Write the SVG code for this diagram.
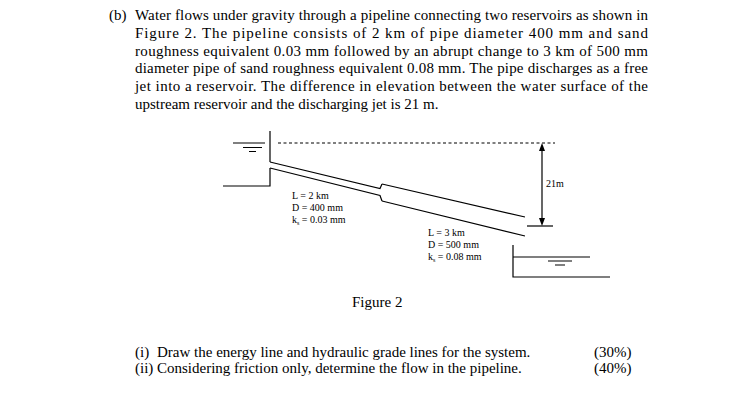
<svg xmlns="http://www.w3.org/2000/svg" width="752" height="412" viewBox="0 0 752 412">
<style>
text{font-family:"Liberation Serif","Times New Roman",serif;fill:#000}
.b{font-size:15px}
.s{font-size:10px}
.l{stroke:#000;stroke-width:1.2;fill:none}
</style>
<defs><marker id="ah" markerWidth="8" markerHeight="8" refX="4" refY="4" orient="auto-start-reverse" markerUnits="userSpaceOnUse"><path d="M0,1 L8,4 L0,7 Z" fill="#000"/></marker></defs>
<rect width="752" height="412" fill="#fff"/>
<g id="question">
<text class="b" x="109" y="20">(b)</text>
<text class="b" x="135" y="20" textLength="513" lengthAdjust="spacing">Water flows under gravity through a pipeline connecting two reservoirs as shown in</text>
<text class="b" x="135" y="37.8" textLength="513" lengthAdjust="spacing">Figure 2.  The pipeline consists of 2 km of pipe diameter 400 mm and sand</text>
<text class="b" x="135" y="55.6" textLength="513" lengthAdjust="spacing">roughness equivalent 0.03 mm followed by an abrupt change to 3 km of 500 mm</text>
<text class="b" x="135" y="73.4" textLength="513" lengthAdjust="spacing">diameter pipe of sand roughness equivalent 0.08 mm.  The pipe discharges as a free</text>
<text class="b" x="135" y="91.2" textLength="513" lengthAdjust="spacing">jet into a reservoir.  The difference in elevation between the water surface of the</text>
<text class="b" x="135" y="109">upstream reservoir and the discharging jet is 21 m.</text>
</g>
<g id="upstream-reservoir">
<path class="l" d="M233,143 H265 M243,147.5 H262 M249,151.5 H256 M270,131 V162 M270,168 V186 H223"/>
</g>
<g id="pipe1">
<path class="l" d="M270,162 L380,188.5 L382,184"/>
<path class="l" d="M270,168 L380,195.5 L382,201"/>
<text class="s" x="292" y="199">L = 2 km</text>
<text class="s" x="292" y="211">D = 400 mm</text>
<text class="s" x="292" y="223">k<tspan font-size="6" dy="2">s</tspan><tspan dy="-2"> = 0.03 mm</tspan></text>
</g>
<g id="pipe2">
<path class="l" d="M382,184 L525,217 M382,201 L525,236"/>
<text class="s" x="428" y="236">L = 3 km</text>
<text class="s" x="428" y="248">D = 500 mm</text>
<text class="s" x="428" y="260">k<tspan font-size="6" dy="2">s</tspan><tspan dy="-2"> = 0.08 mm</tspan></text>
</g>
<g id="downstream-reservoir">
<path class="l" d="M513,245 V277 H610 M513,257 H590 M548,261 H572 M555,265 H565"/>
</g>
<g id="connectors">
<path class="l" d="M278,143 H555" stroke-dasharray="3,2.5"/>
<path class="l" d="M542,147 V222" marker-start="url(#ah)" marker-end="url(#ah)"/>
<path class="l" d="M527,226 H553"/>
<text class="s" x="546" y="187">21m</text>
</g>
<text class="b" x="352" y="307">Figure 2</text>
<g id="tasks">
<text class="b" x="135" y="357">(i)</text>
<text class="b" x="157" y="357">Draw the energy line and hydraulic grade lines for the system.</text>
<text class="b" x="594" y="357">(30%)</text>
<text class="b" x="135" y="373">(ii)</text>
<text class="b" x="157" y="373">Considering friction only, determine the flow in the pipeline.</text>
<text class="b" x="594" y="373">(40%)</text>
</g>
</svg>
